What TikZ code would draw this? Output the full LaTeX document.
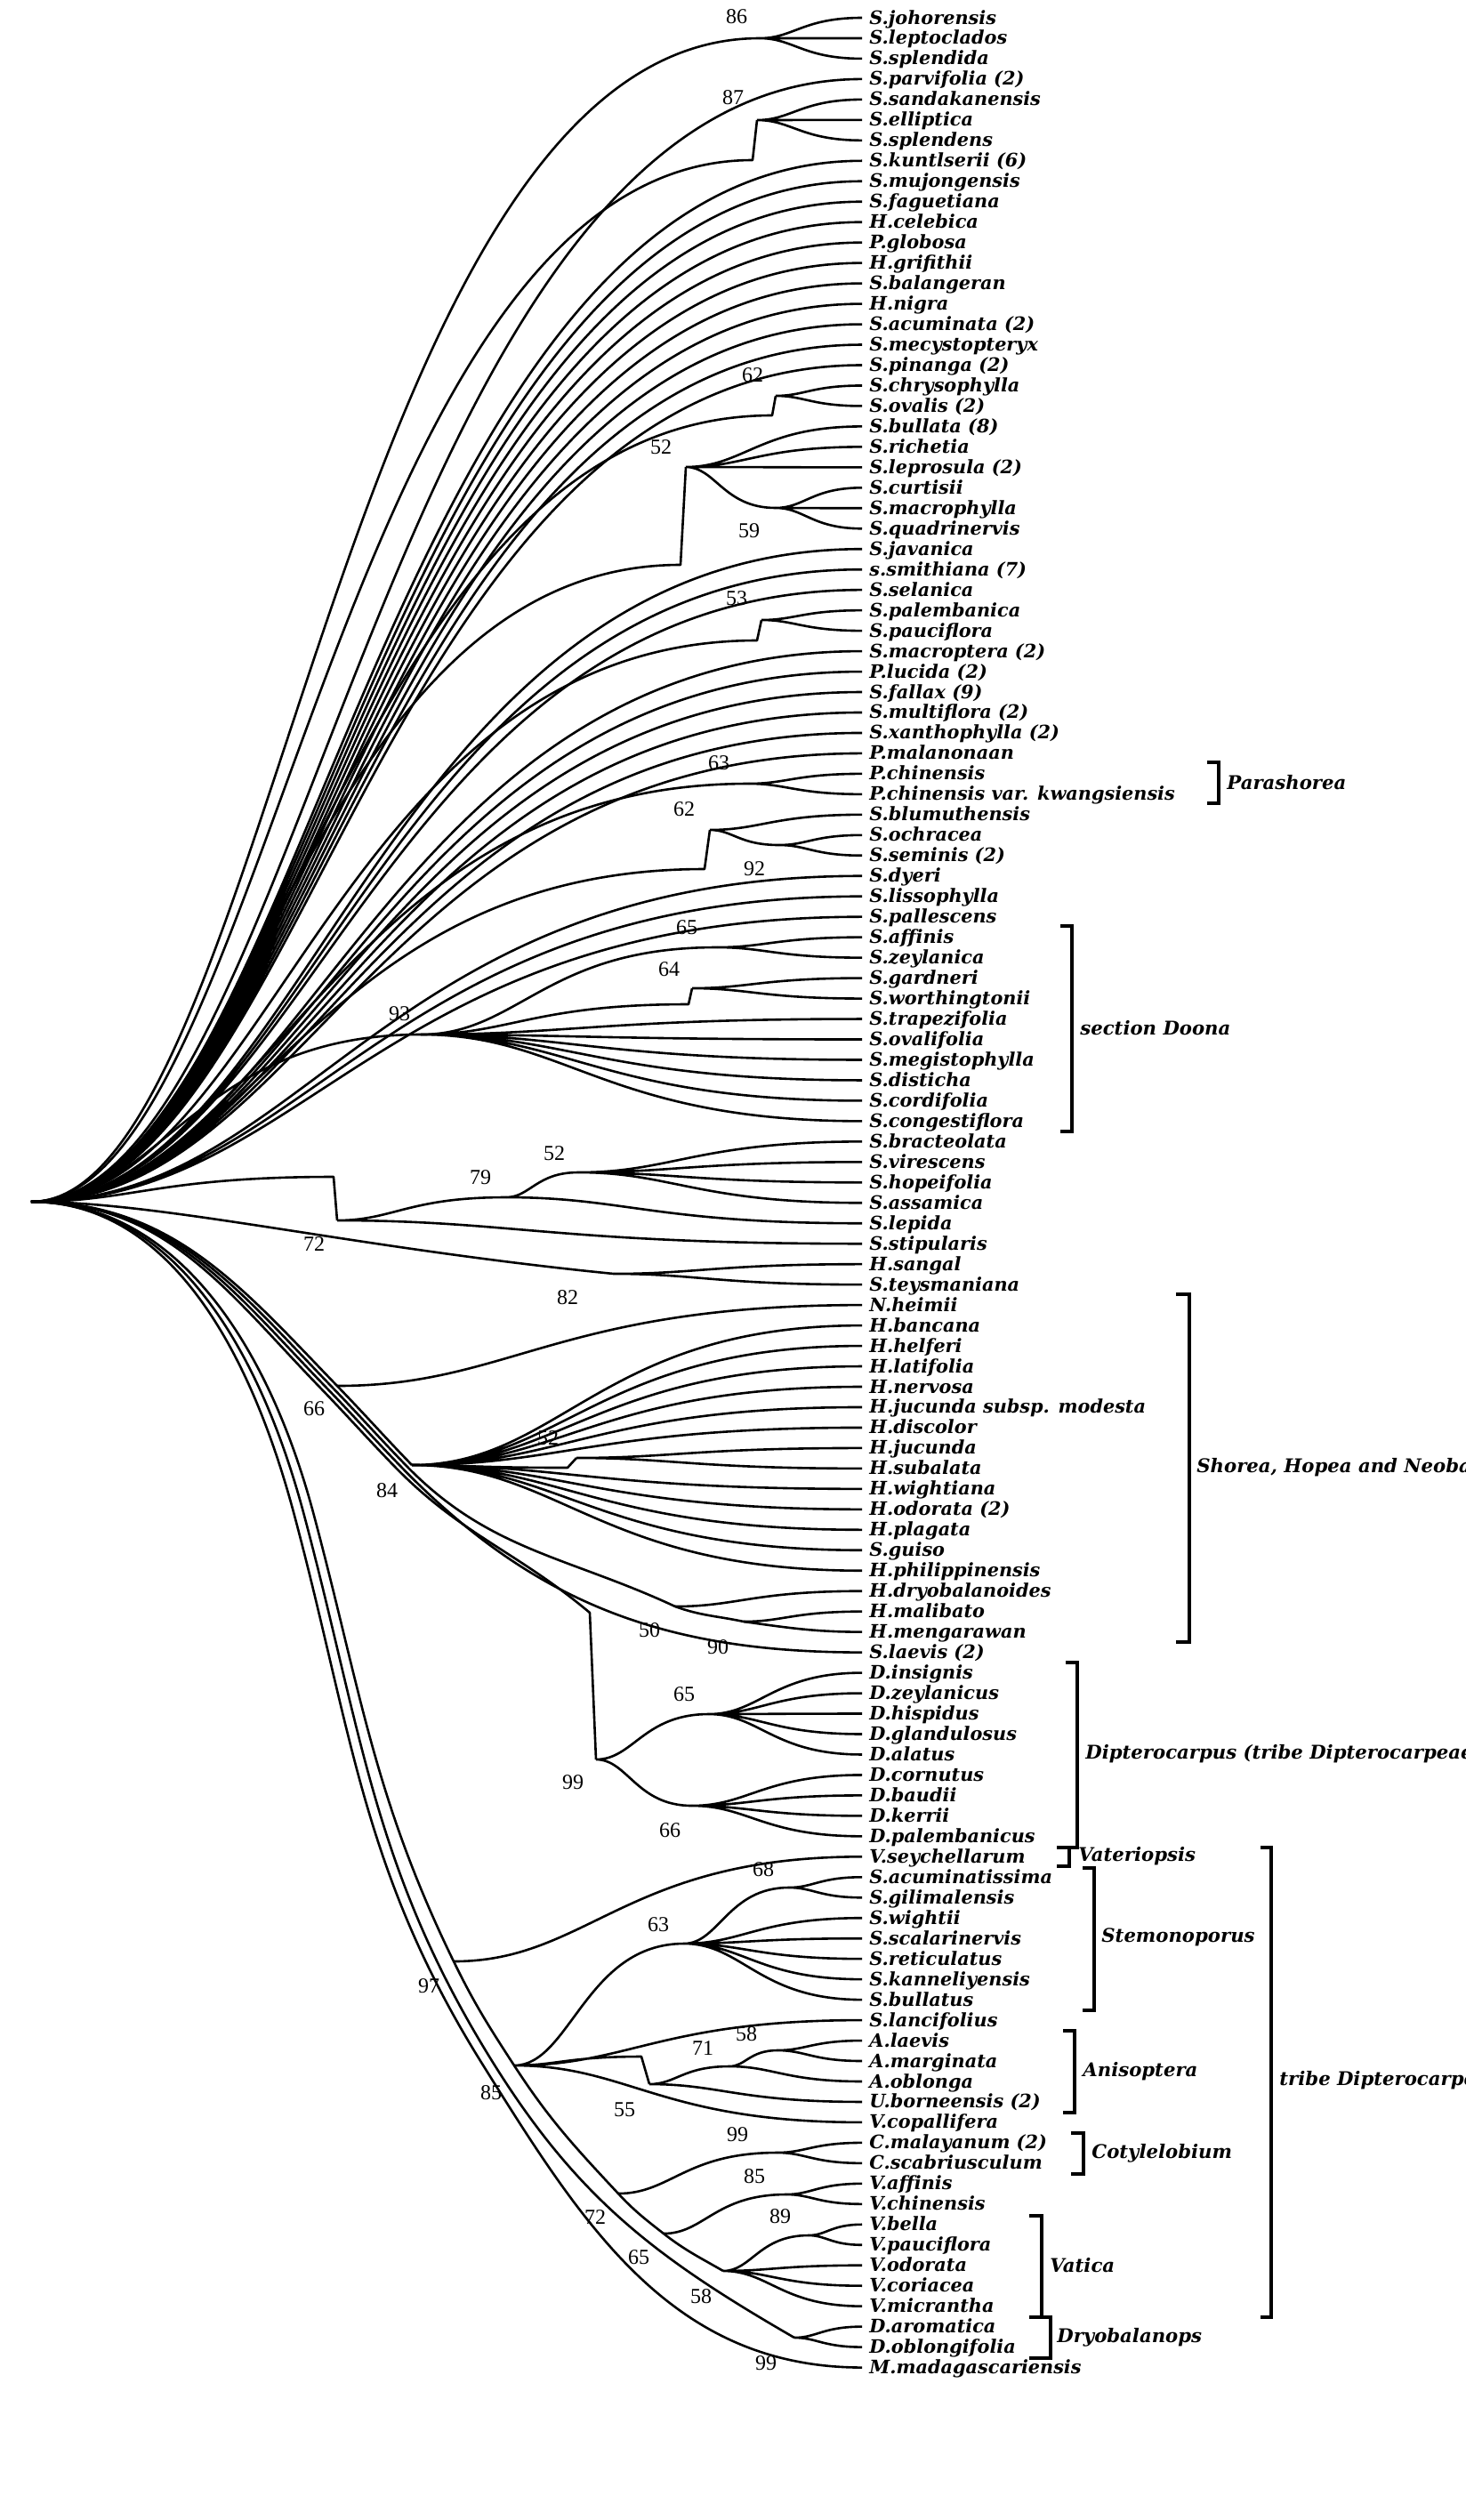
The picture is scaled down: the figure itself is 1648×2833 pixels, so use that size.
\documentclass[tikz,border=0pt]{standalone}
\usepackage{fontspec}
\setmainfont{Liberation Serif}
\newfontfamily\taxafont{DejaVu Serif}
\usetikzlibrary{calc}

\begin{document}
\begin{tikzpicture}[x=0.5pt, y=-0.5pt,
  br/.style={line width=1.3pt, line join=round},
  twig/.style={to path={.. controls ($(\tikztostart)!0.33!(\tikztostart -| \tikztotarget)$)
      and ($(\tikztotarget -| \tikztostart)!0.42!(\tikztotarget)$) .. (\tikztotarget) \tikztonodes}},
  leaf/.style={anchor=west, inner xsep=4pt, inner ysep=0pt, text height=7pt, text depth=0pt,
      font=\taxafont\bfseries\itshape\fontsize{10.4}{12}\selectfont},
  bs/.style={inner sep=0pt, font=\fontsize{12}{14}\selectfont},
  grp/.style={anchor=west, inner sep=0pt, font=\taxafont\bfseries\itshape\fontsize{10.6}{12}\selectfont},
  brk/.style={line width=1.7pt}
]

%---------------------------------------
% Shared functions
%---------------------------------------
\pgfmathdeclarefunction{leafY}{1}{\pgfmathparse{20+(#1-1)*22.97}}  % leaf row
\def\xL{969}

\useasboundingbox (0,0) rectangle (1648,2833);

%====================================================
% LEAVES
%====================================================
\node[leaf] (l1) at (\xL,{leafY(1)}) {S.johorensis};
\node[leaf] (l2) at (\xL,{leafY(2)}) {S.leptoclados};
\node[leaf] (l3) at (\xL,{leafY(3)}) {S.splendida};
\node[leaf] (l4) at (\xL,{leafY(4)}) {S.parvifolia (2)};
\node[leaf] (l5) at (\xL,{leafY(5)}) {S.sandakanensis};
\node[leaf] (l6) at (\xL,{leafY(6)}) {S.elliptica};
\node[leaf] (l7) at (\xL,{leafY(7)}) {S.splendens};
\node[leaf] (l8) at (\xL,{leafY(8)}) {S.kuntlserii (6)};
\node[leaf] (l9) at (\xL,{leafY(9)}) {S.mujongensis};
\node[leaf] (l10) at (\xL,{leafY(10)}) {S.faguetiana};
\node[leaf] (l11) at (\xL,{leafY(11)}) {H.celebica};
\node[leaf] (l12) at (\xL,{leafY(12)}) {P.globosa};
\node[leaf] (l13) at (\xL,{leafY(13)}) {H.grifithii};
\node[leaf] (l14) at (\xL,{leafY(14)}) {S.balangeran};
\node[leaf] (l15) at (\xL,{leafY(15)}) {H.nigra};
\node[leaf] (l16) at (\xL,{leafY(16)}) {S.acuminata (2)};
\node[leaf] (l17) at (\xL,{leafY(17)}) {S.mecystopteryx};
\node[leaf] (l18) at (\xL,{leafY(18)}) {S.pinanga (2)};
\node[leaf] (l19) at (\xL,{leafY(19)}) {S.chrysophylla};
\node[leaf] (l20) at (\xL,{leafY(20)}) {S.ovalis (2)};
\node[leaf] (l21) at (\xL,{leafY(21)}) {S.bullata (8)};
\node[leaf] (l22) at (\xL,{leafY(22)}) {S.richetia};
\node[leaf] (l23) at (\xL,{leafY(23)}) {S.leprosula (2)};
\node[leaf] (l24) at (\xL,{leafY(24)}) {S.curtisii};
\node[leaf] (l25) at (\xL,{leafY(25)}) {S.macrophylla};
\node[leaf] (l26) at (\xL,{leafY(26)}) {S.quadrinervis};
\node[leaf] (l27) at (\xL,{leafY(27)}) {S.javanica};
\node[leaf] (l28) at (\xL,{leafY(28)}) {s.smithiana (7)};
\node[leaf] (l29) at (\xL,{leafY(29)}) {S.selanica};
\node[leaf] (l30) at (\xL,{leafY(30)}) {S.palembanica};
\node[leaf] (l31) at (\xL,{leafY(31)}) {S.pauciflora};
\node[leaf] (l32) at (\xL,{leafY(32)}) {S.macroptera (2)};
\node[leaf] (l33) at (\xL,{leafY(33)}) {P.lucida (2)};
\node[leaf] (l34) at (\xL,{leafY(34)}) {S.fallax (9)};
\node[leaf] (l35) at (\xL,{leafY(35)}) {S.multiflora (2)};
\node[leaf] (l36) at (\xL,{leafY(36)}) {S.xanthophylla (2)};
\node[leaf] (l37) at (\xL,{leafY(37)}) {P.malanonaan};
\node[leaf] (l38) at (\xL,{leafY(38)}) {P.chinensis};
\node[leaf] (l39) at (\xL,{leafY(39)}) {P.chinensis var. kwangsiensis};
\node[leaf] (l40) at (\xL,{leafY(40)}) {S.blumuthensis};
\node[leaf] (l41) at (\xL,{leafY(41)}) {S.ochracea};
\node[leaf] (l42) at (\xL,{leafY(42)}) {S.seminis (2)};
\node[leaf] (l43) at (\xL,{leafY(43)}) {S.dyeri};
\node[leaf] (l44) at (\xL,{leafY(44)}) {S.lissophylla};
\node[leaf] (l45) at (\xL,{leafY(45)}) {S.pallescens};
\node[leaf] (l46) at (\xL,{leafY(46)}) {S.affinis};
\node[leaf] (l47) at (\xL,{leafY(47)}) {S.zeylanica};
\node[leaf] (l48) at (\xL,{leafY(48)}) {S.gardneri};
\node[leaf] (l49) at (\xL,{leafY(49)}) {S.worthingtonii};
\node[leaf] (l50) at (\xL,{leafY(50)}) {S.trapezifolia};
\node[leaf] (l51) at (\xL,{leafY(51)}) {S.ovalifolia};
\node[leaf] (l52) at (\xL,{leafY(52)}) {S.megistophylla};
\node[leaf] (l53) at (\xL,{leafY(53)}) {S.disticha};
\node[leaf] (l54) at (\xL,{leafY(54)}) {S.cordifolia};
\node[leaf] (l55) at (\xL,{leafY(55)}) {S.congestiflora};
\node[leaf] (l56) at (\xL,{leafY(56)}) {S.bracteolata};
\node[leaf] (l57) at (\xL,{leafY(57)}) {S.virescens};
\node[leaf] (l58) at (\xL,{leafY(58)}) {S.hopeifolia};
\node[leaf] (l59) at (\xL,{leafY(59)}) {S.assamica};
\node[leaf] (l60) at (\xL,{leafY(60)}) {S.lepida};
\node[leaf] (l61) at (\xL,{leafY(61)}) {S.stipularis};
\node[leaf] (l62) at (\xL,{leafY(62)}) {H.sangal};
\node[leaf] (l63) at (\xL,{leafY(63)}) {S.teysmaniana};
\node[leaf] (l64) at (\xL,{leafY(64)}) {N.heimii};
\node[leaf] (l65) at (\xL,{leafY(65)}) {H.bancana};
\node[leaf] (l66) at (\xL,{leafY(66)}) {H.helferi};
\node[leaf] (l67) at (\xL,{leafY(67)}) {H.latifolia};
\node[leaf] (l68) at (\xL,{leafY(68)}) {H.nervosa};
\node[leaf] (l69) at (\xL,{leafY(69)}) {H.jucunda subsp. modesta};
\node[leaf] (l70) at (\xL,{leafY(70)}) {H.discolor};
\node[leaf] (l71) at (\xL,{leafY(71)}) {H.jucunda};
\node[leaf] (l72) at (\xL,{leafY(72)}) {H.subalata};
\node[leaf] (l73) at (\xL,{leafY(73)}) {H.wightiana};
\node[leaf] (l74) at (\xL,{leafY(74)}) {H.odorata (2)};
\node[leaf] (l75) at (\xL,{leafY(75)}) {H.plagata};
\node[leaf] (l76) at (\xL,{leafY(76)}) {S.guiso};
\node[leaf] (l77) at (\xL,{leafY(77)}) {H.philippinensis};
\node[leaf] (l78) at (\xL,{leafY(78)}) {H.dryobalanoides};
\node[leaf] (l79) at (\xL,{leafY(79)}) {H.malibato};
\node[leaf] (l80) at (\xL,{leafY(80)}) {H.mengarawan};
\node[leaf] (l81) at (\xL,{leafY(81)}) {S.laevis (2)};
\node[leaf] (l82) at (\xL,{leafY(82)}) {D.insignis};
\node[leaf] (l83) at (\xL,{leafY(83)}) {D.zeylanicus};
\node[leaf] (l84) at (\xL,{leafY(84)}) {D.hispidus};
\node[leaf] (l85) at (\xL,{leafY(85)}) {D.glandulosus};
\node[leaf] (l86) at (\xL,{leafY(86)}) {D.alatus};
\node[leaf] (l87) at (\xL,{leafY(87)}) {D.cornutus};
\node[leaf] (l88) at (\xL,{leafY(88)}) {D.baudii};
\node[leaf] (l89) at (\xL,{leafY(89)}) {D.kerrii};
\node[leaf] (l90) at (\xL,{leafY(90)}) {D.palembanicus};
\node[leaf] (l91) at (\xL,{leafY(91)}) {V.seychellarum};
\node[leaf] (l92) at (\xL,{leafY(92)}) {S.acuminatissima};
\node[leaf] (l93) at (\xL,{leafY(93)}) {S.gilimalensis};
\node[leaf] (l94) at (\xL,{leafY(94)}) {S.wightii};
\node[leaf] (l95) at (\xL,{leafY(95)}) {S.scalarinervis};
\node[leaf] (l96) at (\xL,{leafY(96)}) {S.reticulatus};
\node[leaf] (l97) at (\xL,{leafY(97)}) {S.kanneliyensis};
\node[leaf] (l98) at (\xL,{leafY(98)}) {S.bullatus};
\node[leaf] (l99) at (\xL,{leafY(99)}) {S.lancifolius};
\node[leaf] (l100) at (\xL,{leafY(100)}) {A.laevis};
\node[leaf] (l101) at (\xL,{leafY(101)}) {A.marginata};
\node[leaf] (l102) at (\xL,{leafY(102)}) {A.oblonga};
\node[leaf] (l103) at (\xL,{leafY(103)}) {U.borneensis (2)};
\node[leaf] (l104) at (\xL,{leafY(104)}) {V.copallifera};
\node[leaf] (l105) at (\xL,{leafY(105)}) {C.malayanum (2)};
\node[leaf] (l106) at (\xL,{leafY(106)}) {C.scabriusculum};
\node[leaf] (l107) at (\xL,{leafY(107)}) {V.affinis};
\node[leaf] (l108) at (\xL,{leafY(108)}) {V.chinensis};
\node[leaf] (l109) at (\xL,{leafY(109)}) {V.bella};
\node[leaf] (l110) at (\xL,{leafY(110)}) {V.pauciflora};
\node[leaf] (l111) at (\xL,{leafY(111)}) {V.odorata};
\node[leaf] (l112) at (\xL,{leafY(112)}) {V.coriacea};
\node[leaf] (l113) at (\xL,{leafY(113)}) {V.micrantha};
\node[leaf] (l114) at (\xL,{leafY(114)}) {D.aromatica};
\node[leaf] (l115) at (\xL,{leafY(115)}) {D.oblongifolia};
\node[leaf] (l116) at (\xL,{leafY(116)}) {M.madagascariensis};

%====================================================
% INNER NODES
%====================================================
\coordinate (r) at (35,1351);
\coordinate (n86) at (854,43);
\coordinate (j87) at (846,180);   \coordinate (n87) at (851,135);
\coordinate (j62a) at (868,467);  \coordinate (n62a) at (872,445);
\coordinate (j52) at (765,635);   \coordinate (n52) at (771,525);
\coordinate (n59) at (872,571);
\coordinate (j53) at (851,720);   \coordinate (n53) at (856,697);
\coordinate (n63) at (842,881);
\coordinate (j62b) at (792,977);  \coordinate (n62b) at (798,933);
\coordinate (n92) at (876,950);
\coordinate (n93) at (473,1163);
\coordinate (n65) at (806,1065);
\coordinate (j64) at (774,1129);  \coordinate (n64) at (778,1111);
\coordinate (jX) at (375,1323);   \coordinate (nX) at (379,1372);
\coordinate (n79) at (569,1346);
\coordinate (n52b) at (650,1318);
\coordinate (n72) at (690,1432);
% Shorea / Hopea bundle
\coordinate (n66) at (379,1558);  \coordinate (n84) at (463,1647);
\coordinate (vB1) at (372,1558);  \coordinate (vB2) at (456,1647);
\coordinate (vC1) at (365,1558);  \coordinate (vC2) at (449,1647);
\coordinate (vD1) at (358,1558);  \coordinate (vD2) at (442,1647);
\coordinate (j71) at (638,1650);  \coordinate (nJu) at (648,1639);
\coordinate (n50) at (759,1806);
\coordinate (n90) at (836,1823);
\coordinate (jD) at (663,1813);   \coordinate (n99) at (670,1978);
\coordinate (n65d) at (797,1927);
\coordinate (n66d) at (778,2030);
% lower bundle
\coordinate (vO1) at (330,1700);  \coordinate (vO2) at (542,2320);
\coordinate (vM1) at (341,1700);  \coordinate (vM2) at (555,2320);
\coordinate (vI1) at (352,1700);
\coordinate (n97) at (510,2205);
\coordinate (nQ) at (578,2322);
\coordinate (n63s) at (769,2185);
\coordinate (n68) at (887,2122);
\coordinate (jU) at (721,2312);   \coordinate (nU) at (730,2343);
\coordinate (n71) at (820,2323);
\coordinate (n58) at (874,2305);
\coordinate (nCot) at (695,2466); \coordinate (n99c) at (874,2420);
\coordinate (nAff) at (746,2511); \coordinate (n85b) at (884,2467);
\coordinate (nVat) at (813,2553); \coordinate (nBel) at (909,2513);
\coordinate (nDry) at (893,2628);

%====================================================
% UPPER FAN
%====================================================
\draw[br] (r) to[twig] (n86);
\draw[br] (n86) to[twig] (l1.west) (n86) to[twig] (l2.west) (n86) to[twig] (l3.west);
\draw[br] (r) to[twig] (l4.west);
\draw[br] (r) to[twig] (j87) -- (n87);
\draw[br] (n87) to[twig] (l5.west) (n87) to[twig] (l6.west) (n87) to[twig] (l7.west);
\draw[br] (r) to[twig] (l8.west) (r) to[twig] (l9.west) (r) to[twig] (l10.west)
  (r) to[twig] (l11.west) (r) to[twig] (l12.west) (r) to[twig] (l13.west)
  (r) to[twig] (l14.west) (r) to[twig] (l15.west) (r) to[twig] (l16.west)
  (r) to[twig] (l17.west) (r) to[twig] (l18.west);
\draw[br] (r) to[twig] (j62a) -- (n62a);
\draw[br] (n62a) to[twig] (l19.west) (n62a) to[twig] (l20.west);
\draw[br] (r) to[twig] (j52) -- (n52);
\draw[br] (n52) to[twig] (l21.west) (n52) to[twig] (l22.west) (n52) to[twig] (l23.west)
  (n52) to[twig] (n59);
\draw[br] (n59) to[twig] (l24.west) (n59) to[twig] (l25.west) (n59) to[twig] (l26.west);
\draw[br] (r) to[twig] (l27.west) (r) to[twig] (l28.west) (r) to[twig] (l29.west);
\draw[br] (r) to[twig] (j53) -- (n53);
\draw[br] (n53) to[twig] (l30.west) (n53) to[twig] (l31.west);
\draw[br] (r) to[twig] (l32.west) (r) to[twig] (l33.west) (r) to[twig] (l34.west)
  (r) to[twig] (l35.west) (r) to[twig] (l36.west) (r) to[twig] (l37.west);
\draw[br] (r) to[twig] (n63);
\draw[br] (n63) to[twig] (l38.west) (n63) to[twig] (l39.west);
\draw[br] (r) to[twig] (j62b) -- (n62b);
\draw[br] (n62b) to[twig] (l40.west) (n62b) to[twig] (n92);
\draw[br] (n92) to[twig] (l41.west) (n92) to[twig] (l42.west);
\draw[br] (r) to[twig] (l43.west) (r) to[twig] (l44.west) (r) to[twig] (l45.west);
% section Doona
\draw[br] (r) to[twig] (n93);
\draw[br] (n93) to[twig] (n65) (n93) to[twig] (j64) -- (n64);
\draw[br] (n65) to[twig] (l46.west) (n65) to[twig] (l47.west);
\draw[br] (n64) to[twig] (l48.west) (n64) to[twig] (l49.west);
\draw[br] (n93) to[twig] (l50.west) (n93) to[twig] (l51.west) (n93) to[twig] (l52.west)
  (n93) to[twig] (l53.west) (n93) to[twig] (l54.west) (n93) to[twig] (l55.west);

%====================================================
% MIDDLE
%====================================================
\draw[br] (r) to[twig] (jX) -- (nX);
\draw[br] (nX) to[twig] (n79) (nX) to[twig] (l61.west);
\draw[br] (n79) to[twig] (n52b) (n79) to[twig] (l60.west);
\draw[br] (n52b) to[twig] (l56.west) (n52b) to[twig] (l57.west)
  (n52b) to[twig] (l58.west) (n52b) to[twig] (l59.west);
\draw[br] (r) .. controls +(150,0) and +(-300,-30) .. (n72);
\draw[br] (n72) to[twig] (l62.west) (n72) to[twig] (l63.west);
% Shorea, Hopea and Neobalanocarpus
\draw[br] (r) to[out=0,in=134] (n66) to[out=-46,in=134] (n84);
\draw[br] (n66) to[twig] (l64.west);
\draw[br] (n84) to[twig] (l65.west) (n84) to[twig] (l66.west) (n84) to[twig] (l67.west)
  (n84) to[twig] (l68.west) (n84) to[twig] (l69.west) (n84) to[twig] (l70.west);
\draw[br] (n84) to[twig] (j71) -- (nJu);
\draw[br] (nJu) to[twig] (l71.west) (nJu) to[twig] (l72.west);
\draw[br] (n84) to[twig] (l73.west) (n84) to[twig] (l74.west) (n84) to[twig] (l75.west)
  (n84) to[twig] (l76.west) (n84) to[twig] (l77.west);
\draw[br] (r) to[out=0,in=134] (vB1) to[out=-46,in=134] (vB2) to[out=-46,in=155] (n50)
  to[out=-20,in=168] (n90) to[out=-8,in=180] (l80.west);
\draw[br] (n50) to[twig] (l78.west) (n90) to[twig] (l79.west);
\draw[br] (r) to[out=0,in=134] (vC1) to[out=-46,in=134] (vC2) to[out=-46,in=180] (l81.west);
% Dipterocarpus
\draw[br] (r) to[out=0,in=134] (vD1) to[out=-46,in=134] (vD2) to[out=-46,in=140] (jD) -- (n99);
\draw[br] (n99) to[twig] (n65d) (n99) to[twig] (n66d);
\draw[br] (n65d) to[twig] (l82.west) (n65d) to[twig] (l83.west) (n65d) to[twig] (l84.west)
  (n65d) to[twig] (l85.west) (n65d) to[twig] (l86.west);
\draw[br] (n66d) to[twig] (l87.west) (n66d) to[twig] (l88.west)
  (n66d) to[twig] (l89.west) (n66d) to[twig] (l90.west);

%====================================================
% LOWER
%====================================================
\draw[br] (r) .. controls +(150,0) and +(-52,-193) .. (vO1) to[out=-75,in=122] (vO2)
  to[out=-58,in=180] (l116.west);
\draw[br] (r) .. controls +(155,0) and +(-52,-193) .. (vM1) to[out=-75,in=122] (vM2)
  to[out=-58,in=150] (nDry);
\draw[br] (r) .. controls +(160,0) and +(-52,-193) .. (vI1) to[out=-75,in=116] (n97)
  to[out=-64,in=123] (nQ) to[out=-57,in=133] (nCot) to[out=-47,in=142] (nAff)
  to[out=-38,in=150] (nVat);
\draw[br] (n97) to[twig] (l91.west);
\draw[br] (nQ) to[twig] (n63s) (nQ) to[twig] (l99.west) (nQ) to[twig] (jU) -- (nU)
  (nQ) to[twig] (l104.west);
\draw[br] (n63s) to[twig] (n68) (n63s) to[twig] (l94.west) (n63s) to[twig] (l95.west)
  (n63s) to[twig] (l96.west) (n63s) to[twig] (l97.west) (n63s) to[twig] (l98.west);
\draw[br] (n68) to[twig] (l92.west) (n68) to[twig] (l93.west);
\draw[br] (nU) to[twig] (n71) (nU) to[twig] (l103.west);
\draw[br] (n71) to[twig] (n58) (n71) to[twig] (l102.west);
\draw[br] (n58) to[twig] (l100.west) (n58) to[twig] (l101.west);
\draw[br] (nCot) to[twig] (n99c);
\draw[br] (n99c) to[twig] (l105.west) (n99c) to[twig] (l106.west);
\draw[br] (nAff) to[twig] (n85b);
\draw[br] (n85b) to[twig] (l107.west) (n85b) to[twig] (l108.west);
\draw[br] (nVat) to[twig] (nBel) (nVat) to[twig] (l111.west) (nVat) to[twig] (l112.west)
  (nVat) to[twig] (l113.west);
\draw[br] (nBel) to[twig] (l109.west) (nBel) to[twig] (l110.west);
\draw[br] (nDry) to[twig] (l114.west) (nDry) to[twig] (l115.west);

%====================================================
% BOOTSTRAP VALUES
%====================================================
\node[bs] (b86) at (828,19) {86};
\node[bs] (b87) at (824,110) {87};
\node[bs] (b62a) at (846,422) {62};
\node[bs] (b52) at (743,503) {52};
\node[bs] (b59) at (842,597) {59};
\node[bs] (b53) at (828,673) {53};
\node[bs] (b63) at (808,858) {63};
\node[bs] (b62b) at (769,910) {62};
\node[bs] (b92) at (848,977) {92};
\node[bs] (b65) at (772,1043) {65};
\node[bs] (b64) at (752,1090) {64};
\node[bs] (b93) at (449,1140) {93};
\node[bs] (b79) at (540,1324) {79};
\node[bs] (b52b) at (623,1297) {52};
\node[bs] (b72) at (353,1399) {72};
\node[bs] (b82) at (638,1459) {82};
\node[bs] (b66) at (353,1584) {66};
\node[bs] (b52c) at (616,1617) {52};
\node[bs] (b84) at (435,1676) {84};
\node[bs] (b50) at (730,1833) {50};
\node[bs] (b90) at (807,1852) {90};
\node[bs] (b65d) at (769,1905) {65};
\node[bs] (b99) at (644,2004) {99};
\node[bs] (b66d) at (753,2058) {66};
\node[bs] (b68) at (858,2102) {68};
\node[bs] (b63s) at (740,2164) {63};
\node[bs] (b97) at (482,2233) {97};
\node[bs] (b58) at (839,2287) {58};
\node[bs] (b71) at (790,2303) {71};
\node[bs] (b85) at (552,2353) {85};
\node[bs] (b55) at (702,2372) {55};
\node[bs] (b99c) at (829,2400) {99};
\node[bs] (b85b) at (848,2447) {85};
\node[bs] (b72b) at (669,2493) {72};
\node[bs] (b89) at (877,2492) {89};
\node[bs] (b65c) at (718,2538) {65};
\node[bs] (b58b) at (788,2582) {58};
\node[bs] (b99d) at (861,2657) {99};

%====================================================
% GROUP BRACKETS
%====================================================
\draw[brk] (1357,857) -- (1370,857) -- (1370,903) -- (1357,903);
\node[grp] (gPara) at (1379,880) {Parashorea};
\draw[brk] (1192,1041) -- (1205,1041) -- (1205,1272) -- (1192,1272);
\node[grp] (gDoona) at (1214,1156) {section Doona};
\draw[brk] (1322,1455) -- (1337,1455) -- (1337,1846) -- (1322,1846);
\node[grp] (gShorea) at (1345,1650) {Shorea, Hopea and Neobalanocarpus};
\draw[brk] (1198,1869) -- (1211,1869) -- (1211,2077) -- (1188,2077);
\node[grp] (gDipt) at (1220,1972) {Dipterocarpus (tribe Dipterocarpeae)};
\draw[brk] (1202,2077) -- (1202,2098) -- (1188,2098);
\node[grp] (gVater) at (1212,2087) {Vateriopsis};
\draw[brk] (1217,2100) -- (1230,2100) -- (1230,2260) -- (1217,2260);
\node[grp] (gStem) at (1238,2178) {Stemonoporus};
\draw[brk] (1417,2077) -- (1429,2077) -- (1429,2605) -- (1417,2605);
\node[grp] (gTribe) at (1438,2339) {tribe Dipterocarpeae};
\draw[brk] (1195,2283) -- (1208,2283) -- (1208,2375) -- (1195,2375);
\node[grp] (gAniso) at (1217,2329) {Anisoptera};
\draw[brk] (1204,2398) -- (1218,2398) -- (1218,2444) -- (1204,2444);
\node[grp] (gCoty) at (1227,2421) {Cotylelobium};
\draw[brk] (1157,2491) -- (1171,2491) -- (1171,2605) -- (1157,2605);
\node[grp] (gVat) at (1180,2547) {Vatica};
\draw[brk] (1171,2605) -- (1181,2605) -- (1181,2651) -- (1157,2651);
\node[grp] (gDry) at (1188,2628) {Dryobalanops};

\end{tikzpicture}
\end{document}
